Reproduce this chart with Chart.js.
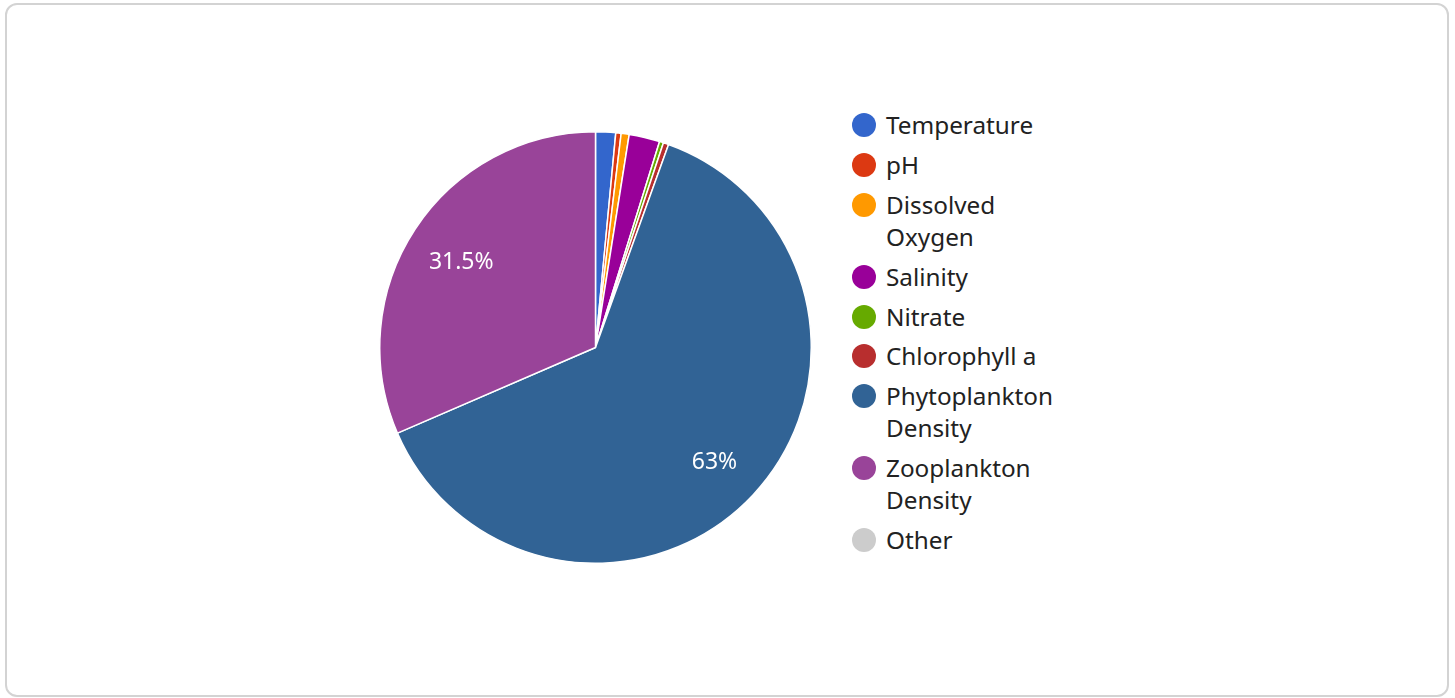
<!DOCTYPE html>
<html>
<head>
<meta charset="utf-8">
<script src="https://cdn.jsdelivr.net/npm/chart.js@4.4.0/dist/chart.umd.min.js"></script>
<style>
  body { margin: 0; background: #fff; font-family: "Noto Sans", sans-serif; }
  #card {
    position: absolute; left: 5px; top: 3px; width: 1440px; height: 690px;
    border: 2px solid #d3d3d3; border-radius: 12px; background: #fff;
  }
  #pieBox { position: absolute; left: 379px; top: 131px; width: 433px; height: 433px; }
  #legend { position: absolute; left: 852px; top: 109px; margin: 0; padding: 0; list-style: none; }
  #legend li { display: flex; align-items: flex-start; margin-bottom: 7.9px; }
  #legend .dot { width: 24px; height: 24px; border-radius: 50%; margin-top: 4px; flex: none; }
  #legend .txt { margin-left: 10px; width: 180px; font-size: 24.3px; line-height: 32px; color: #222; }
</style>
</head>
<body>
<div id="card"></div>
<div id="pieBox"><canvas id="pie"></canvas></div>
<ul id="legend"></ul>
<script>
  // parametros y su porcentaje
  const categorias = ['Temperature', 'pH', 'Dissolved Oxygen', 'Salinity', 'Nitrate',
    'Chlorophyll a', 'Phytoplankton Density', 'Zooplankton Density', 'Other'];
  const valores = [1.5, 0.4, 0.6, 2.3, 0.3, 0.4, 63, 31.5, 0];
  const colores = ['#3366cc', '#dc3912', '#ff9900', '#990099', '#66aa00',
    '#b82e2e', '#316395', '#994499', '#cccccc'];

  // etiquetas de porcentaje dentro del pastel
  const etiquetasPlugin = {
    id: 'etiquetas',
    afterDatasetsDraw(chart) {
      const ctx = chart.ctx;
      const meta = chart.getDatasetMeta(0);
      const total = valores.reduce((a, b) => a + b, 0);
      ctx.save();
      ctx.fillStyle = '#ffffff';
      ctx.font = '23px "Noto Sans"';
      ctx.textAlign = 'center';
      ctx.textBaseline = 'middle';
      meta.data.forEach((arc, i) => {
        const pct = valores[i] / total * 100;
        if (pct < 10) return;
        const mid = (arc.startAngle + arc.endAngle) / 2;
        const r = arc.outerRadius * 0.75;
        const txt = (Math.round(pct * 10) / 10) + '%';
        ctx.fillText(txt, arc.x + Math.cos(mid) * r + 1, arc.y + Math.sin(mid) * r + 4);
      });
      ctx.restore();
    }
  };

  var ctx = document.getElementById('pie');
  var pie = new Chart(ctx, {
    type: 'pie',
    data: {
      labels: categorias,
      datasets: [{
        data: valores,
        backgroundColor: colores,
        borderColor: '#ffffff',
        borderWidth: 1.5
      }]
    },
    options: {
      responsive: true,
      maintainAspectRatio: false,
      animation: false,
      layout: { padding: 0 },
      plugins: {
        legend: { display: false },
        tooltip: { enabled: false }
      }
    },
    plugins: [etiquetasPlugin]
  });

  // leyenda en html
  const legend = document.getElementById('legend');
  categorias.forEach((cat, i) => {
    const li = document.createElement('li');
    li.innerHTML = '<span class="dot" style="background:' + colores[i] + '"></span>' +
      '<span class="txt">' + cat + '</span>';
    legend.appendChild(li);
  });
</script>
</body>
</html>
